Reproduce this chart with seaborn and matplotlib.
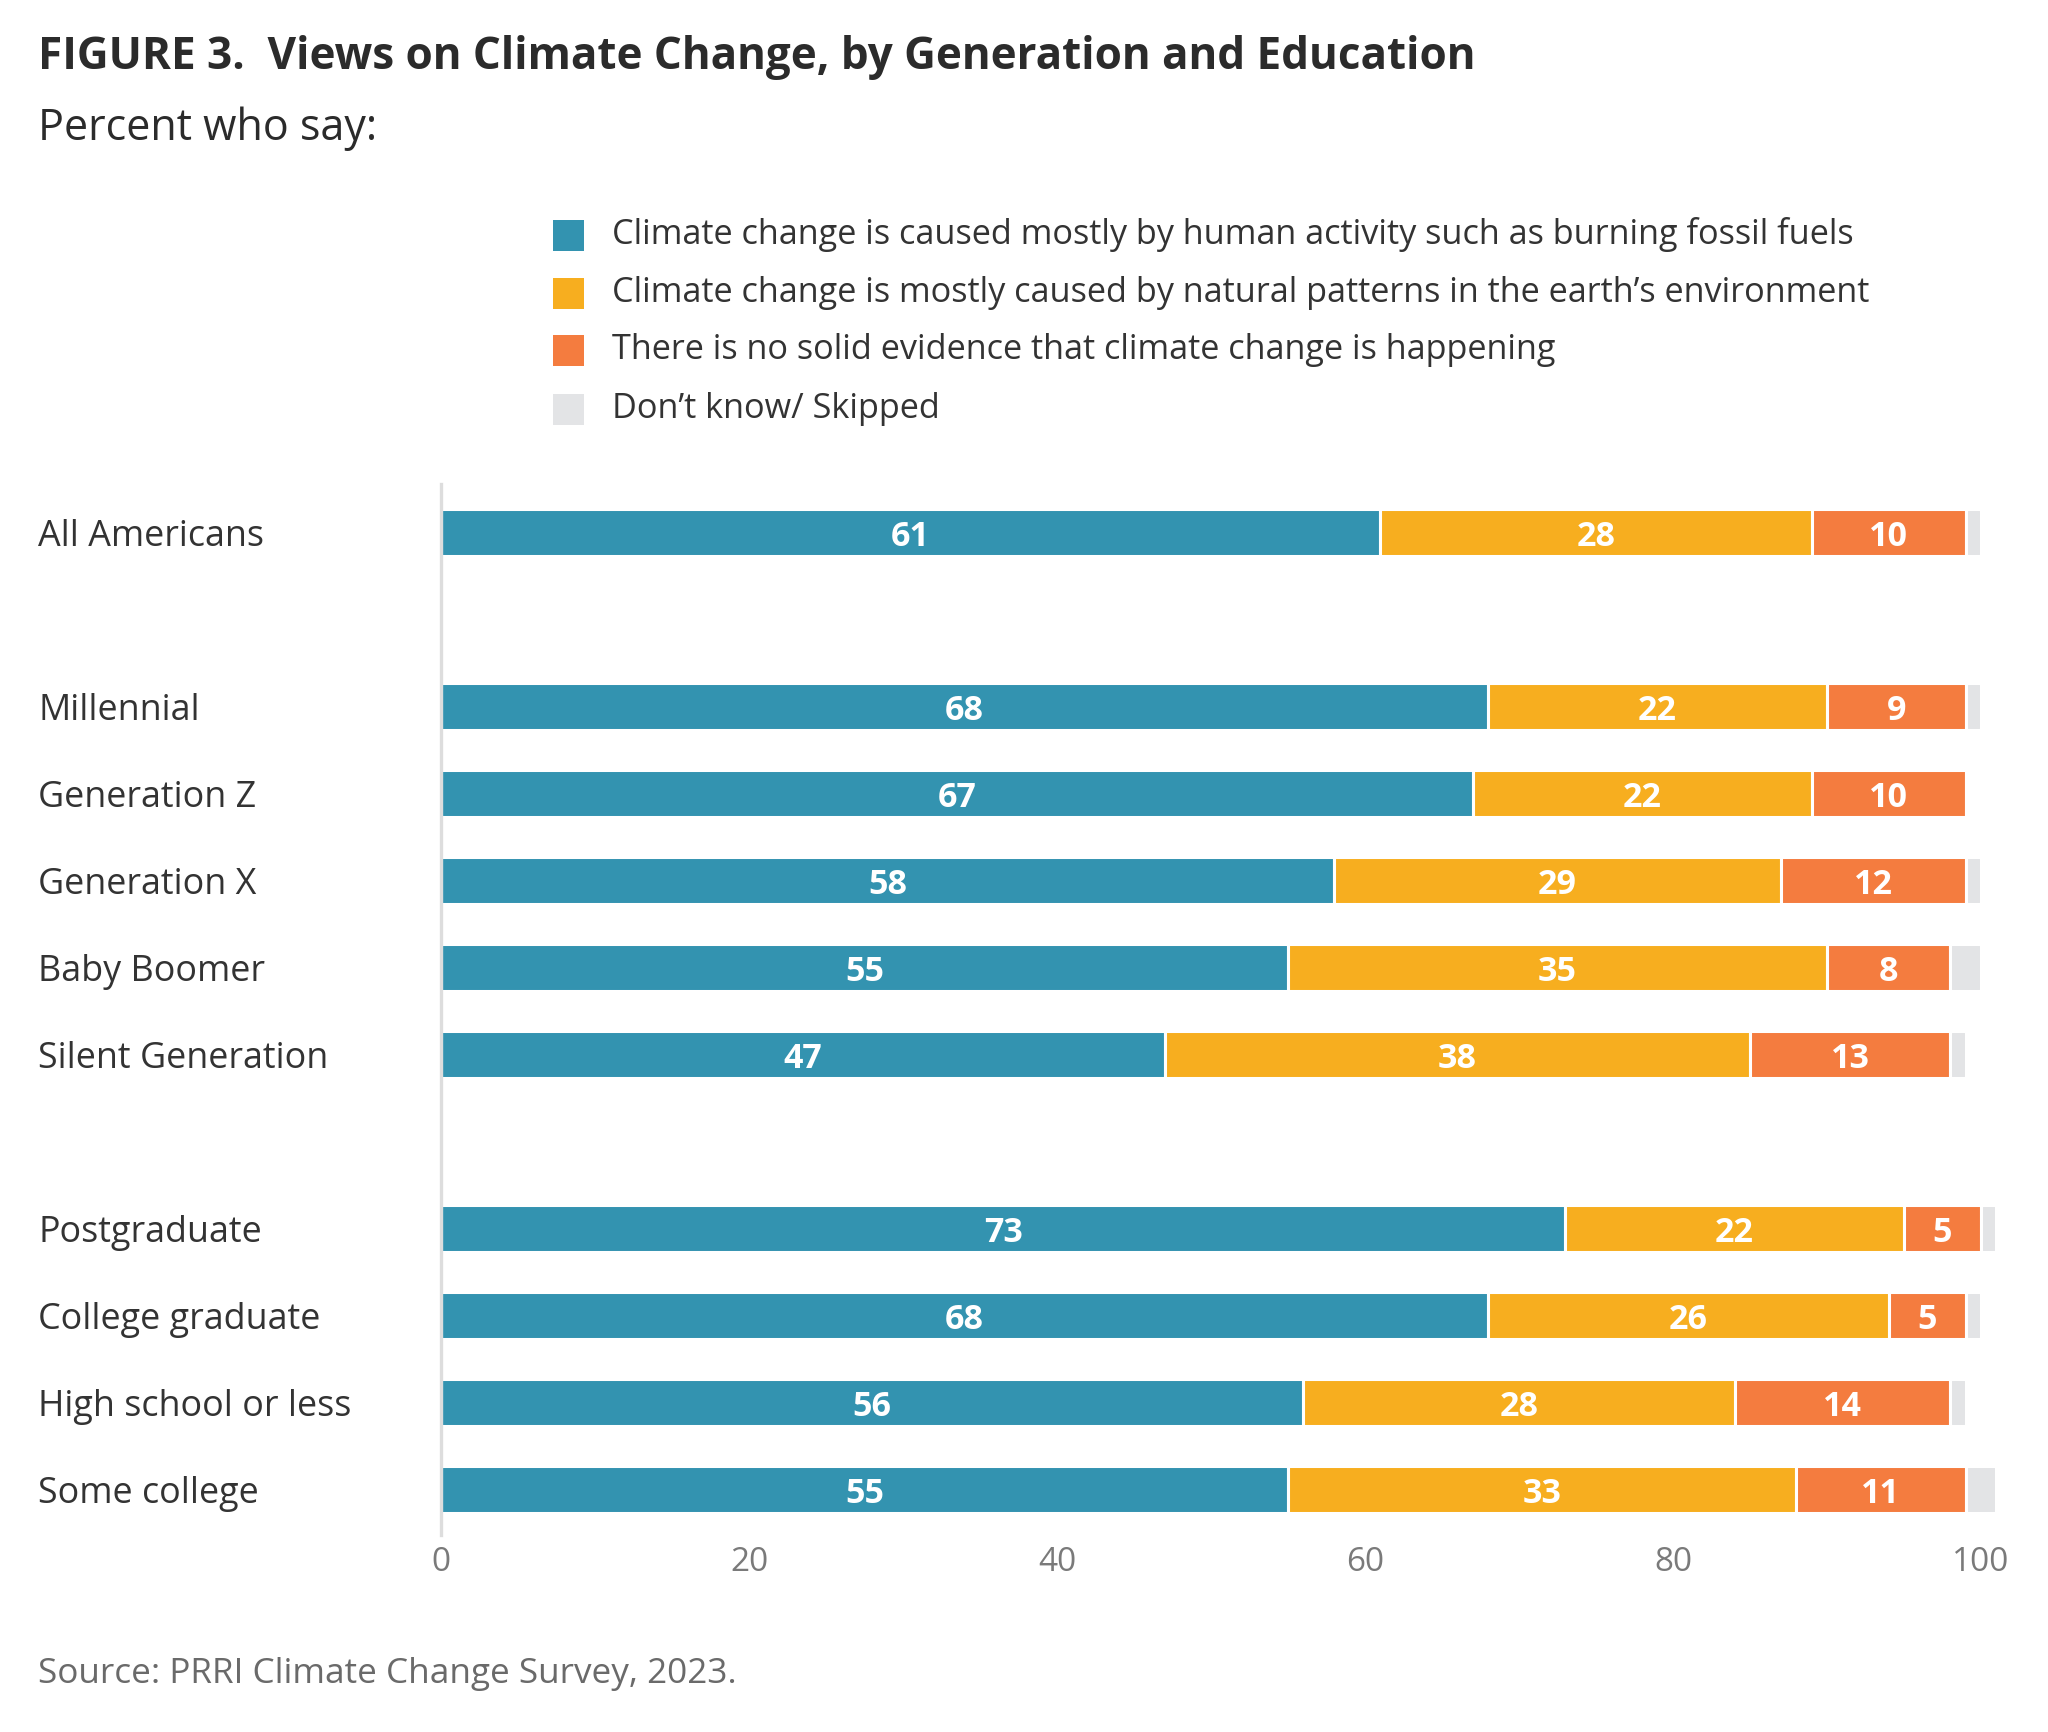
import matplotlib
matplotlib.use("Agg")
import matplotlib.pyplot as plt
import seaborn as sns
import numpy as np
from matplotlib.patches import Rectangle

# ---- data ----
categories = ["All Americans", "Millennial", "Generation Z", "Generation X", "Baby Boomer",
              "Silent Generation", "Postgraduate", "College graduate", "High school or less",
              "Some college"]
human = [61, 68, 67, 58, 55, 47, 73, 68, 56, 55]
natural = [28, 22, 22, 29, 35, 38, 22, 26, 28, 33]
no_evidence = [10, 9, 10, 12, 8, 13, 5, 5, 14, 11]
dont_know = [1, 1, 0, 1, 2, 1, 1, 1, 1, 2]
series_labels = [
    "Climate change is caused mostly by human activity such as burning fossil fuels",
    "Climate change is mostly caused by natural patterns in the earth\u2019s environment",
    "There is no solid evidence that climate change is happening",
    "Don\u2019t know/ Skipped",
]
x_ticks = [0, 20, 40, 60, 80, 100]

# ---- layout / style ----
ypos = [0, 2, 3, 4, 5, 6, 8, 9, 10, 11]
colors = ["#3393B0", "#F7AE1F", "#F47C3F", "#E3E4E6"]
show_label = [True, True, True, False]

sns.set_theme(style="white")
plt.rcParams["font.family"] = ["Open Sans", "DejaVu Sans"]

W, H = 2048, 1732
fig = plt.figure(figsize=(W / 100, H / 100), dpi=100)
ax_left, ax_right = 441, 1981
ax_top, ax_bot = 484, 1535
ax = fig.add_axes([ax_left / W, 1 - ax_bot / H, (ax_right - ax_left) / W, (ax_bot - ax_top) / H])

series = [human, natural, no_evidence, dont_know]
left = np.zeros(len(categories))
for vals, col, lab in zip(series, colors, show_label):
    vals = np.array(vals, dtype=float)
    ax.barh(ypos, vals, left=left, height=0.54, color=col,
            edgecolor="white", linewidth=2.2, clip_on=False)
    if lab:
        for y, l, v in zip(ypos, left, vals):
            if v > 0:
                ax.text(l + v / 2, y, f"{int(v)}", ha="center", va="center_baseline",
                        color="white", fontsize=24.5, fontweight="bold")
    left += vals

ax.set_xlim(0, 100)
ax.set_ylim(11.52, -0.56)
ax.set_xticks(x_ticks)
ax.set_xticklabels([str(t) for t in x_ticks], color="#7a7a7a", fontsize=24)
ax.tick_params(axis="x", length=0, pad=8)
ax.set_yticks(ypos)
ax.set_yticklabels(categories, fontsize=25.8, color="#333333")
for t in ax.get_yticklabels():
    t.set_ha("left")
ax.tick_params(axis="y", length=0, pad=(ax_left - 38) * 0.72)
for s in ["top", "right", "bottom"]:
    ax.spines[s].set_visible(False)
ax.spines["left"].set_color("#DDDDDD")
ax.spines["left"].set_linewidth(2.4)
ax.grid(False)

# ---- titles ----
fig.text(38 / W, 1 - 57 / H, "FIGURE 3.  Views on Climate Change, by Generation and Education",
         fontsize=31.7, fontweight="bold", color="#2b2b2b", ha="left", va="center")
fig.text(38 / W, 1 - 129 / H, "Percent who say:", fontsize=31, color="#2b2b2b",
         ha="left", va="center")

# ---- legend ----
leg_y = [235, 293, 350, 409]
for lab, col, yy in zip(series_labels, colors, leg_y):
    fig.patches.append(Rectangle((553 / W, 1 - (yy + 16) / H), 31 / W, 31 / H,
                                 transform=fig.transFigure, facecolor=col, edgecolor="none"))
    fig.text(612 / W, 1 - yy / H, lab, fontsize=24.7, color="#333333", ha="left", va="center")

# ---- source ----
fig.text(38 / W, 1 - 1674 / H, "Source: PRRI Climate Change Survey, 2023.", fontsize=25.3,
         color="#6a6a6a", ha="left", va="center")

fig.savefig("out.png", dpi=100, facecolor="white")
